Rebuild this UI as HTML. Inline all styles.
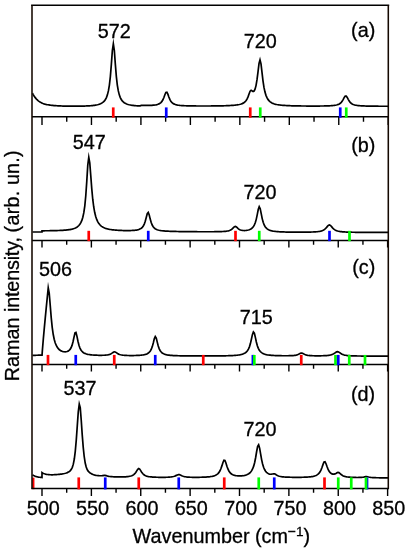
<!DOCTYPE html>
<html lang="en"><head><meta charset="utf-8"><title>Raman spectra</title>
<style>html,body{margin:0;padding:0;background:#fff}body{width:408px;height:550px;overflow:hidden}</style></head>
<body>
<svg width="408" height="550" viewBox="0 0 408 550" style="display:block">
<rect width="408" height="550" fill="#fff"/>
<path d="M32.49,93.28 L33.08,94.32 L34.07,95.94 L35.06,97.39 L36.05,98.65 L37.05,99.73 L38.04,100.64 L39.03,101.41 L40.02,102.06 L41.01,102.61 L41.99,103.07 L42.00,103.07 L42.99,103.47 L43.98,103.82 L44.97,104.11 L45.96,104.37 L46.95,104.59 L47.95,104.78 L48.94,104.95 L49.93,105.10 L50.92,105.23 L51.91,105.35 L52.90,105.45 L53.89,105.54 L54.88,105.62 L55.87,105.70 L56.87,105.76 L57.86,105.82 L58.85,105.88 L59.84,105.92 L60.83,105.96 L61.82,106.00 L62.81,106.04 L63.80,106.07 L64.79,106.09 L65.78,106.12 L66.78,106.14 L67.77,106.15 L68.76,106.17 L69.75,106.18 L70.74,106.19 L71.73,106.20 L72.72,106.20 L73.71,106.21 L74.70,106.21 L75.69,106.20 L76.69,106.20 L77.68,106.19 L78.67,106.18 L79.66,106.17 L80.65,106.15 L81.64,106.13 L82.63,106.11 L83.62,106.08 L84.61,106.05 L85.60,106.02 L86.59,105.97 L87.59,105.93 L88.58,105.87 L89.57,105.81 L90.56,105.73 L91.55,105.65 L92.54,105.55 L93.53,105.44 L94.52,105.31 L95.51,105.15 L96.50,104.97 L97.50,104.75 L98.49,104.49 L99.48,104.17 L100.47,103.78 L101.46,103.30 L102.45,102.68 L103.44,101.89 L104.43,100.85 L105.42,99.47 L106.42,97.56 L107.41,94.86 L108.40,90.93 L109.39,85.08 L110.38,76.36 L111.37,64.10 L112.36,50.49 L113.35,43.79 L114.34,50.49 L115.33,64.10 L116.33,76.36 L117.32,85.09 L118.31,90.94 L119.30,94.86 L120.29,97.56 L121.28,99.47 L122.27,100.86 L123.26,101.90 L124.25,102.69 L125.24,103.31 L126.23,103.80 L127.23,104.19 L128.22,104.51 L129.21,104.77 L130.20,104.99 L131.19,105.17 L132.18,105.32 L133.17,105.45 L134.16,105.56 L135.15,105.66 L136.14,105.74 L137.14,105.81 L138.13,105.87 L139.12,105.92 L140.11,105.96 L141.10,105.40 L142.09,105.42 L143.08,105.44 L144.07,105.46 L145.06,105.47 L146.06,105.47 L147.05,105.46 L148.04,105.45 L149.03,105.42 L150.02,105.39 L151.01,105.35 L152.00,105.29 L152.99,105.21 L153.98,105.11 L154.97,104.98 L155.97,104.81 L156.96,104.59 L157.95,104.30 L158.94,103.90 L159.93,103.34 L160.92,102.56 L161.91,101.43 L162.90,99.80 L163.89,97.52 L164.88,94.73 L165.88,92.37 L166.87,92.12 L167.86,94.18 L168.85,97.02 L169.84,99.44 L170.83,101.21 L171.82,102.43 L172.81,103.29 L173.80,103.89 L174.79,104.33 L175.78,104.66 L176.78,104.91 L177.77,105.10 L178.76,105.25 L179.75,105.38 L180.74,105.48 L181.73,105.56 L182.72,105.63 L183.71,105.68 L184.70,105.73 L185.69,105.77 L186.69,105.81 L187.68,105.84 L188.67,105.86 L189.66,105.89 L190.65,105.91 L191.64,105.92 L192.63,105.94 L193.62,105.95 L194.61,105.96 L195.60,105.97 L196.60,105.98 L197.59,105.98 L198.58,105.99 L199.57,105.99 L200.56,106.00 L201.55,106.00 L202.54,106.00 L203.53,106.00 L204.52,106.00 L205.51,106.00 L206.51,106.00 L207.50,105.99 L208.49,105.99 L209.48,105.99 L210.47,105.98 L211.46,105.97 L212.45,105.97 L213.44,105.96 L214.43,105.95 L215.43,105.94 L216.42,105.92 L217.41,105.91 L218.40,105.90 L219.39,105.88 L220.38,105.86 L221.37,105.84 L222.36,105.82 L223.35,105.79 L224.34,105.76 L225.34,105.73 L226.33,105.70 L227.32,105.66 L228.31,105.62 L229.30,105.57 L230.29,105.52 L231.28,105.46 L232.27,105.39 L233.26,105.32 L234.25,105.23 L235.25,105.13 L236.24,105.01 L237.23,104.87 L238.22,104.71 L239.21,104.51 L240.20,104.27 L241.19,103.98 L242.18,103.61 L243.17,103.14 L244.16,102.53 L245.16,101.69 L246.15,100.54 L247.14,98.90 L248.13,96.63 L249.12,93.76 L250.11,91.15 L251.10,90.23 L252.09,90.90 L253.08,91.56 L254.07,91.10 L255.06,89.13 L256.06,85.37 L257.05,79.48 L258.04,71.53 L259.03,63.43 L260.02,59.83 L261.01,63.82 L262.00,72.35 L262.99,80.82 L263.98,87.38 L264.98,92.07 L265.97,95.36 L266.96,97.70 L267.95,99.40 L268.94,100.65 L269.93,101.61 L270.92,102.34 L271.91,102.92 L272.90,103.38 L273.89,103.76 L274.88,104.06 L275.88,104.32 L276.87,104.54 L277.86,104.72 L278.85,104.87 L279.84,105.01 L280.83,105.12 L281.82,105.23 L282.81,105.31 L283.80,105.39 L284.79,105.46 L285.79,105.52 L286.78,105.58 L287.77,105.63 L288.76,105.67 L289.75,105.71 L290.74,105.75 L291.73,105.78 L292.72,105.81 L293.71,105.84 L294.70,105.86 L295.70,105.89 L296.69,105.91 L297.68,105.93 L298.67,105.94 L299.66,105.96 L300.65,105.97 L301.64,105.98 L302.63,106.00 L303.62,106.01 L304.62,106.02 L305.61,106.02 L306.60,106.03 L307.59,106.04 L308.58,106.04 L309.57,106.05 L310.56,106.05 L311.55,106.05 L312.54,106.05 L313.53,106.06 L314.52,106.05 L315.52,106.05 L316.51,106.05 L317.50,106.05 L318.49,106.04 L319.48,106.03 L320.47,106.02 L321.46,106.01 L322.45,106.00 L323.44,105.98 L324.44,105.97 L325.43,105.94 L326.42,105.92 L327.41,105.89 L328.40,105.85 L329.39,105.80 L330.38,105.75 L331.37,105.69 L332.36,105.61 L333.35,105.51 L334.34,105.38 L335.34,105.23 L336.33,105.02 L337.32,104.76 L338.31,104.41 L339.30,103.93 L340.29,103.26 L341.28,102.33 L342.27,101.04 L343.26,99.34 L344.25,97.43 L345.25,96.01 L346.24,96.01 L347.23,97.43 L348.22,99.35 L349.21,101.06 L350.20,102.35 L351.19,103.28 L352.18,103.95 L353.17,104.44 L354.17,104.79 L355.16,105.06 L356.15,105.27 L357.14,105.43 L358.13,105.56 L359.12,105.66 L360.11,105.74 L361.10,105.81 L362.09,105.87 L363.08,105.92 L364.07,105.96 L365.07,106.00 L366.06,106.03 L367.05,106.06 L368.04,106.08 L369.03,106.10 L370.02,106.12 L371.01,106.14 L372.00,106.16 L372.99,106.17 L373.99,106.18 L374.98,106.19 L375.97,106.20 L376.96,106.21 L377.95,106.22 L378.94,106.23 L379.93,106.24 L380.92,106.24 L381.91,106.25 L382.90,106.25 L383.89,106.26 L384.89,106.26 L385.88,106.27 L386.87,106.27 L388.45,106.28" fill="none" stroke="#000" stroke-width="1.7" stroke-linejoin="miter" stroke-miterlimit="10"/>
<path d="M32.49,232.00 L33.28,232.00 L34.27,232.00 L35.26,232.00 L36.25,232.00 L37.24,232.00 L38.23,232.00 L39.23,232.00 L40.22,232.00 L41.21,232.00 L41.99,232.00 L42.00,230.80 L42.20,230.80 L43.19,230.79 L44.18,230.78 L45.17,230.77 L46.16,230.76 L47.15,230.75 L48.14,230.74 L49.14,230.73 L50.13,230.71 L51.12,230.70 L52.11,230.68 L53.10,230.66 L54.09,230.64 L55.08,230.61 L56.07,230.58 L57.06,230.55 L58.05,230.52 L59.05,230.48 L60.04,230.44 L61.03,230.39 L62.02,230.34 L63.01,230.28 L64.00,230.21 L64.99,230.13 L65.98,230.04 L66.97,229.94 L67.96,229.83 L68.96,229.69 L69.95,229.54 L70.94,229.35 L71.93,229.14 L72.92,228.88 L73.91,228.57 L74.90,228.20 L75.89,227.74 L76.88,227.17 L77.87,226.45 L78.87,225.52 L79.86,224.31 L80.85,222.68 L81.84,220.43 L82.83,217.27 L83.82,212.66 L84.81,205.79 L85.80,195.55 L86.79,181.15 L87.78,165.16 L88.78,157.30 L89.77,162.89 L90.76,175.53 L91.75,188.66 L92.74,199.23 L93.73,206.99 L94.72,212.54 L95.71,216.53 L96.70,219.44 L97.69,221.61 L98.69,223.26 L99.68,224.54 L100.67,225.54 L101.66,226.34 L102.65,226.99 L103.64,227.53 L104.63,227.97 L105.62,228.34 L106.61,228.66 L107.60,228.92 L108.60,229.15 L109.59,229.35 L110.58,229.52 L111.57,229.68 L112.56,229.81 L113.55,229.92 L114.54,230.03 L115.53,230.12 L116.52,230.20 L117.51,230.27 L118.51,230.33 L119.50,230.38 L120.49,230.43 L121.48,230.47 L122.47,230.51 L123.46,230.53 L124.45,230.56 L125.44,230.57 L126.43,230.58 L127.42,230.58 L128.42,230.58 L129.41,230.56 L130.40,230.54 L131.39,230.51 L132.38,230.46 L133.37,230.40 L134.36,230.31 L135.35,230.21 L136.34,230.06 L137.33,229.88 L138.33,229.63 L139.32,229.30 L140.31,228.85 L141.30,228.22 L142.29,227.32 L143.28,226.01 L144.27,224.07 L145.26,221.22 L146.25,217.42 L147.24,213.67 L148.24,212.50 L149.23,215.05 L150.22,219.09 L151.21,222.57 L152.20,225.05 L153.19,226.74 L154.18,227.89 L155.17,228.69 L156.16,229.27 L157.15,229.70 L158.15,230.02 L159.14,230.27 L160.13,230.47 L161.12,230.63 L162.11,230.76 L163.10,230.87 L164.09,230.96 L165.08,231.04 L166.07,231.11 L167.06,231.16 L168.06,231.22 L169.05,231.26 L170.04,231.30 L171.03,231.34 L172.02,231.37 L173.01,231.40 L174.00,231.42 L174.99,231.45 L175.98,231.47 L176.97,231.49 L177.97,231.51 L178.96,231.53 L179.95,231.55 L180.94,231.56 L181.93,231.58 L182.92,231.59 L183.91,231.60 L184.90,231.62 L185.89,231.63 L186.88,231.64 L187.88,231.65 L188.87,231.66 L189.86,231.67 L190.85,231.68 L191.84,231.69 L192.83,231.69 L193.82,231.70 L194.81,231.71 L195.80,231.72 L196.79,231.72 L197.79,231.73 L198.78,231.73 L199.77,231.74 L200.76,231.74 L201.75,231.75 L202.74,231.75 L203.73,231.75 L204.72,231.75 L205.71,231.75 L206.70,231.75 L207.70,231.75 L208.69,231.75 L209.68,231.75 L210.67,231.75 L211.66,231.74 L212.65,231.74 L213.64,231.73 L214.63,231.72 L215.62,231.71 L216.61,231.70 L217.61,231.68 L218.60,231.66 L219.59,231.64 L220.58,231.61 L221.57,231.57 L222.56,231.52 L223.55,231.47 L224.54,231.39 L225.53,231.30 L226.52,231.18 L227.52,231.02 L228.51,230.81 L229.50,230.51 L230.49,230.10 L231.48,229.51 L232.47,228.69 L233.46,227.66 L234.45,226.72 L235.44,226.42 L236.43,226.99 L237.43,227.97 L238.42,228.87 L239.41,229.53 L240.40,229.97 L241.39,230.26 L242.38,230.43 L243.37,230.52 L244.36,230.54 L245.35,230.50 L246.34,230.41 L247.34,230.26 L248.33,230.04 L249.32,229.74 L250.31,229.32 L251.30,228.75 L252.29,227.95 L253.28,226.82 L254.27,225.20 L255.26,222.82 L256.25,219.37 L257.25,214.65 L258.24,209.50 L259.23,206.69 L260.22,208.66 L261.21,213.65 L262.20,218.60 L263.19,222.34 L264.18,224.93 L265.17,226.71 L266.16,227.96 L267.16,228.84 L268.15,229.50 L269.14,229.99 L270.13,230.36 L271.12,230.66 L272.11,230.89 L273.10,231.08 L274.09,231.24 L275.08,231.37 L276.07,231.48 L277.07,231.58 L278.06,231.66 L279.05,231.73 L280.04,231.79 L281.03,231.84 L282.02,231.89 L283.01,231.93 L284.00,231.97 L284.99,232.00 L285.98,232.03 L286.98,232.06 L287.97,232.08 L288.96,232.10 L289.95,232.12 L290.94,232.13 L291.93,232.15 L292.92,232.15 L293.91,232.16 L294.90,232.17 L295.89,232.17 L296.89,232.18 L297.88,232.18 L298.87,232.18 L299.86,232.18 L300.85,232.18 L301.84,232.18 L302.83,232.17 L303.82,232.16 L304.81,232.16 L305.80,232.15 L306.80,232.13 L307.79,232.12 L308.78,232.10 L309.77,232.08 L310.76,232.05 L311.75,232.02 L312.74,231.98 L313.73,231.93 L314.72,231.88 L315.71,231.81 L316.71,231.73 L317.70,231.63 L318.69,231.50 L319.68,231.33 L320.67,231.12 L321.66,230.85 L322.65,230.48 L323.64,230.00 L324.63,229.34 L325.62,228.48 L326.62,227.39 L327.61,226.18 L328.60,225.21 L329.59,224.94 L330.58,225.55 L331.57,226.67 L332.56,227.86 L333.55,228.86 L334.54,229.64 L335.53,230.23 L336.53,230.67 L337.52,230.99 L338.51,231.25 L339.50,231.44 L340.49,231.59 L341.48,231.71 L342.47,231.81 L343.46,231.89 L344.45,231.96 L345.44,232.01 L346.44,232.06 L347.43,232.10 L348.42,232.14 L349.41,232.17 L350.40,232.19 L351.39,232.21 L352.38,232.23 L353.37,232.25 L354.36,232.27 L355.35,232.28 L356.35,232.30 L357.34,232.31 L358.33,232.32 L359.32,232.33 L360.31,232.34 L361.30,232.34 L362.29,232.35 L363.28,232.36 L364.27,232.36 L365.26,232.37 L366.26,232.37 L367.25,232.38 L368.24,232.38 L369.23,232.39 L370.22,232.39 L371.21,232.40 L372.20,232.40 L373.19,232.40 L374.18,232.41 L375.17,232.41 L376.17,232.41 L377.16,232.41 L378.15,232.42 L379.14,232.42 L380.13,232.42 L381.12,232.42 L382.11,232.43 L383.10,232.43 L384.09,232.43 L385.08,232.43 L386.08,232.43 L387.07,232.43 L388.45,232.44" fill="none" stroke="#000" stroke-width="1.7" stroke-linejoin="miter" stroke-miterlimit="10"/>
<path d="M32.49,355.39 L33.38,355.36 L34.37,355.33 L35.36,355.30 L36.35,355.27 L37.34,355.24 L38.33,355.21 L39.32,355.18 L40.32,355.15 L41.31,355.12 L41.99,355.10 L42.00,355.99 L42.30,351.39 L43.29,339.34 L44.28,328.37 L45.27,317.87 L46.26,307.68 L47.25,297.70 L48.24,287.90 L49.23,293.29 L50.23,305.33 L51.22,317.59 L52.21,327.28 L53.20,334.26 L54.19,339.20 L55.18,342.70 L56.17,345.23 L57.16,347.08 L58.15,348.46 L59.14,349.50 L60.14,350.28 L61.13,350.87 L62.12,351.30 L63.11,351.60 L64.10,351.77 L65.09,351.83 L66.08,351.76 L67.07,351.54 L68.06,351.14 L69.05,350.47 L70.05,349.43 L71.04,347.82 L72.03,345.38 L73.02,341.77 L74.01,337.09 L75.00,332.96 L75.99,332.54 L76.98,336.32 L77.97,341.24 L78.96,345.25 L79.96,348.06 L80.95,349.98 L81.94,351.30 L82.93,352.23 L83.92,352.90 L84.91,353.40 L85.90,353.79 L86.89,354.09 L87.88,354.32 L88.87,354.52 L89.87,354.67 L90.86,354.80 L91.85,354.91 L92.84,354.99 L93.83,355.07 L94.82,355.13 L95.81,355.18 L96.80,355.22 L97.79,355.25 L98.78,355.28 L99.78,355.29 L100.77,355.30 L101.76,355.29 L102.75,355.27 L103.74,355.24 L104.73,355.20 L105.72,355.13 L106.71,355.02 L107.70,354.88 L108.69,354.67 L109.69,354.37 L110.68,353.95 L111.67,353.38 L112.66,352.67 L113.65,352.01 L114.64,351.78 L115.63,352.14 L116.62,352.84 L117.61,353.55 L118.60,354.11 L119.60,354.51 L120.59,354.80 L121.58,355.01 L122.57,355.16 L123.56,355.27 L124.55,355.36 L125.54,355.42 L126.53,355.46 L127.52,355.50 L128.51,355.52 L129.51,355.54 L130.50,355.54 L131.49,355.55 L132.48,355.54 L133.47,355.53 L134.46,355.51 L135.45,355.49 L136.44,355.46 L137.43,355.42 L138.42,355.37 L139.42,355.30 L140.41,355.23 L141.40,355.13 L142.39,355.01 L143.38,354.86 L144.37,354.67 L145.36,354.42 L146.35,354.09 L147.34,353.66 L148.33,353.06 L149.33,352.22 L150.32,351.01 L151.31,349.23 L152.30,346.60 L153.29,342.95 L154.28,338.85 L155.27,336.56 L156.26,338.15 L157.25,342.13 L158.24,345.97 L159.24,348.80 L160.23,350.74 L161.22,352.05 L162.21,352.96 L163.20,353.60 L164.19,354.07 L165.18,354.42 L166.17,354.69 L167.16,354.90 L168.15,355.07 L169.15,355.20 L170.14,355.31 L171.13,355.40 L172.12,355.47 L173.11,355.54 L174.10,355.59 L175.09,355.64 L176.08,355.68 L177.07,355.71 L178.06,355.74 L179.06,355.77 L180.05,355.79 L181.04,355.81 L182.03,355.83 L183.02,355.85 L184.01,355.86 L185.00,355.88 L185.99,355.89 L186.98,355.90 L187.97,355.91 L188.97,355.92 L189.96,355.92 L190.95,355.93 L191.94,355.94 L192.93,355.94 L193.92,355.95 L194.91,355.95 L195.90,355.95 L196.89,355.96 L197.88,355.96 L198.88,355.96 L199.87,355.96 L200.86,355.96 L201.85,355.96 L202.84,355.96 L203.83,355.96 L204.82,355.96 L205.81,355.96 L206.80,355.96 L207.79,355.96 L208.79,355.96 L209.78,355.95 L210.77,355.95 L211.76,355.94 L212.75,355.94 L213.74,355.93 L214.73,355.93 L215.72,355.92 L216.71,355.91 L217.70,355.90 L218.70,355.89 L219.69,355.88 L220.68,355.87 L221.67,355.86 L222.66,355.84 L223.65,355.83 L224.64,355.81 L225.63,355.79 L226.62,355.76 L227.61,355.74 L228.61,355.71 L229.60,355.68 L230.59,355.64 L231.58,355.60 L232.57,355.55 L233.56,355.49 L234.55,355.43 L235.54,355.35 L236.53,355.26 L237.52,355.16 L238.52,355.03 L239.51,354.88 L240.50,354.70 L241.49,354.47 L242.48,354.19 L243.47,353.83 L244.46,353.36 L245.45,352.74 L246.44,351.91 L247.43,350.77 L248.43,349.15 L249.42,346.85 L250.41,343.61 L251.40,339.31 L252.39,334.67 L253.38,331.92 L254.37,333.18 L255.36,337.40 L256.35,342.00 L257.34,345.68 L258.34,348.33 L259.33,350.18 L260.32,351.49 L261.31,352.44 L262.30,353.13 L263.29,353.65 L264.28,354.05 L265.27,354.36 L266.26,354.60 L267.25,354.80 L268.25,354.97 L269.24,355.10 L270.23,355.21 L271.22,355.30 L272.21,355.38 L273.20,355.45 L274.19,355.50 L275.18,355.55 L276.17,355.59 L277.16,355.63 L278.16,355.66 L279.15,355.68 L280.14,355.71 L281.13,355.72 L282.12,355.74 L283.11,355.75 L284.10,355.75 L285.09,355.76 L286.08,355.75 L287.07,355.75 L288.07,355.74 L289.06,355.72 L290.05,355.69 L291.04,355.66 L292.03,355.60 L293.02,355.54 L294.01,355.44 L295.00,355.31 L295.99,355.12 L296.98,354.86 L297.98,354.50 L298.97,354.01 L299.96,353.47 L300.95,353.07 L301.94,353.07 L302.93,353.48 L303.92,354.02 L304.91,354.51 L305.90,354.88 L306.89,355.15 L307.89,355.33 L308.88,355.47 L309.87,355.57 L310.86,355.64 L311.85,355.70 L312.84,355.74 L313.83,355.77 L314.82,355.79 L315.81,355.80 L316.80,355.81 L317.80,355.81 L318.79,355.81 L319.78,355.80 L320.77,355.79 L321.76,355.77 L322.75,355.75 L323.74,355.71 L324.73,355.67 L325.72,355.61 L326.71,355.54 L327.71,355.45 L328.70,355.33 L329.69,355.17 L330.68,354.96 L331.67,354.68 L332.66,354.30 L333.65,353.80 L334.64,353.16 L335.63,352.44 L336.62,351.83 L337.62,351.62 L338.61,351.94 L339.60,352.59 L340.59,353.31 L341.58,353.93 L342.57,354.41 L343.56,354.78 L344.55,355.05 L345.54,355.25 L346.53,355.41 L347.53,355.53 L348.52,355.62 L349.51,355.70 L350.50,355.76 L351.49,355.81 L352.48,355.85 L353.47,355.88 L354.46,355.91 L355.45,355.94 L356.44,355.96 L357.44,355.98 L358.43,355.99 L359.42,356.01 L360.41,356.02 L361.40,356.03 L362.39,356.04 L363.38,356.05 L364.37,356.06 L365.36,356.07 L366.35,356.07 L367.35,356.08 L368.34,356.08 L369.33,356.09 L370.32,356.09 L371.31,356.10 L372.30,356.10 L373.29,356.11 L374.28,356.11 L375.27,356.11 L376.26,356.12 L377.26,356.12 L378.25,356.12 L379.24,356.12 L380.23,356.13 L381.22,356.13 L382.21,356.13 L383.20,356.13 L384.19,356.13 L385.18,356.14 L386.17,356.14 L387.17,356.14 L388.45,356.14" fill="none" stroke="#000" stroke-width="1.7" stroke-linejoin="miter" stroke-miterlimit="10"/>
<path d="M32.49,474.88 L33.68,475.57 L34.67,476.03 L35.66,476.39 L36.65,476.68 L37.64,476.92 L38.63,477.10 L39.62,477.25 L40.61,477.37 L41.60,477.47 L41.99,477.50 L42.00,472.57 L42.59,472.93 L43.59,473.43 L44.58,473.82 L45.57,474.12 L46.56,474.35 L47.55,474.52 L48.54,474.64 L49.53,474.72 L50.52,474.77 L51.51,474.79 L52.50,474.78 L53.50,474.75 L54.49,474.71 L55.48,474.66 L56.47,474.59 L57.46,474.51 L58.45,474.42 L59.44,474.31 L60.43,474.20 L61.42,474.07 L62.41,473.92 L63.41,473.74 L64.40,473.53 L65.39,473.29 L66.38,472.98 L67.37,472.60 L68.36,472.12 L69.35,471.48 L70.34,470.61 L71.33,469.34 L72.32,467.36 L73.32,464.16 L74.31,459.00 L75.30,451.08 L76.29,439.89 L77.28,425.91 L78.27,411.92 L79.26,404.07 L80.25,407.72 L81.24,420.25 L82.23,434.87 L83.23,447.43 L84.22,456.75 L85.21,463.03 L86.20,467.02 L87.19,469.52 L88.18,471.12 L89.17,472.22 L90.16,473.02 L91.15,473.63 L92.14,474.12 L93.14,474.51 L94.13,474.83 L95.12,475.09 L96.11,475.31 L97.10,475.48 L98.09,475.61 L99.08,475.71 L100.07,475.76 L101.06,475.76 L102.05,475.69 L103.05,475.54 L104.04,475.38 L105.03,475.35 L106.02,475.56 L107.01,475.87 L108.00,476.15 L108.99,476.36 L109.98,476.51 L110.97,476.62 L111.96,476.70 L112.96,476.77 L113.95,476.82 L114.94,476.86 L115.93,476.89 L116.92,476.91 L117.91,476.93 L118.90,476.94 L119.89,476.94 L120.88,476.94 L121.87,476.93 L122.87,476.91 L123.86,476.88 L124.85,476.83 L125.84,476.78 L126.83,476.70 L127.82,476.60 L128.81,476.46 L129.80,476.28 L130.79,476.04 L131.78,475.71 L132.78,475.25 L133.77,474.61 L134.76,473.71 L135.75,472.47 L136.74,470.90 L137.73,469.34 L138.72,468.54 L139.71,469.10 L140.70,470.60 L141.69,472.22 L142.69,473.55 L143.68,474.53 L144.67,475.23 L145.66,475.73 L146.65,476.10 L147.64,476.38 L148.63,476.59 L149.62,476.75 L150.61,476.87 L151.60,476.97 L152.60,477.05 L153.59,477.12 L154.58,477.17 L155.57,477.21 L156.56,477.24 L157.55,477.27 L158.54,477.29 L159.53,477.31 L160.52,477.32 L161.51,477.32 L162.51,477.32 L163.50,477.32 L164.49,477.31 L165.48,477.29 L166.47,477.26 L167.46,477.23 L168.45,477.18 L169.44,477.11 L170.43,477.02 L171.42,476.91 L172.42,476.75 L173.41,476.53 L174.40,476.24 L175.39,475.86 L176.38,475.39 L177.37,474.93 L178.36,474.63 L179.35,474.67 L180.34,475.02 L181.33,475.49 L182.33,475.94 L183.32,476.30 L184.31,476.58 L185.30,476.78 L186.29,476.93 L187.28,477.04 L188.27,477.13 L189.26,477.19 L190.25,477.23 L191.24,477.27 L192.24,477.29 L193.23,477.31 L194.22,477.32 L195.21,477.32 L196.20,477.32 L197.19,477.32 L198.18,477.31 L199.17,477.29 L200.16,477.27 L201.15,477.25 L202.15,477.22 L203.14,477.19 L204.13,477.15 L205.12,477.10 L206.11,477.04 L207.10,476.97 L208.09,476.89 L209.08,476.79 L210.07,476.67 L211.06,476.52 L212.06,476.35 L213.05,476.13 L214.04,475.85 L215.03,475.49 L216.02,475.03 L217.01,474.41 L218.00,473.57 L218.99,472.41 L219.98,470.80 L220.97,468.56 L221.97,465.65 L222.96,462.45 L223.95,460.25 L224.94,460.50 L225.93,463.01 L226.92,466.18 L227.91,468.93 L228.90,470.99 L229.89,472.46 L230.88,473.50 L231.88,474.24 L232.87,474.78 L233.86,475.16 L234.85,475.44 L235.84,475.64 L236.83,475.78 L237.82,475.87 L238.81,475.91 L239.80,475.92 L240.79,475.89 L241.79,475.82 L242.78,475.72 L243.77,475.57 L244.76,475.37 L245.75,475.11 L246.74,474.77 L247.73,474.34 L248.72,473.77 L249.71,473.02 L250.70,472.01 L251.70,470.65 L252.69,468.77 L253.68,466.13 L254.67,462.45 L255.66,457.48 L256.65,451.51 L257.64,446.25 L258.63,444.72 L259.62,448.08 L260.61,453.95 L261.61,459.62 L262.60,464.05 L263.59,467.27 L264.58,469.55 L265.57,471.18 L266.56,472.34 L267.55,473.17 L268.54,473.74 L269.53,474.10 L270.52,474.26 L271.52,474.22 L272.51,473.99 L273.50,473.74 L274.49,473.82 L275.48,474.35 L276.47,475.02 L277.46,475.58 L278.45,475.99 L279.44,476.29 L280.43,476.50 L281.43,476.67 L282.42,476.80 L283.41,476.90 L284.40,476.98 L285.39,477.05 L286.38,477.10 L287.37,477.15 L288.36,477.19 L289.35,477.22 L290.34,477.25 L291.34,477.27 L292.33,477.29 L293.32,477.31 L294.31,477.32 L295.30,477.32 L296.29,477.33 L297.28,477.33 L298.27,477.32 L299.26,477.32 L300.25,477.31 L301.25,477.29 L302.24,477.27 L303.23,477.25 L304.22,477.22 L305.21,477.18 L306.20,477.13 L307.19,477.08 L308.18,477.01 L309.17,476.93 L310.16,476.83 L311.16,476.71 L312.15,476.55 L313.14,476.37 L314.13,476.13 L315.12,475.82 L316.11,475.42 L317.10,474.89 L318.09,474.17 L319.08,473.18 L320.07,471.80 L321.07,469.88 L322.06,467.32 L323.05,464.38 L324.04,462.04 L325.03,461.76 L326.02,463.72 L327.01,466.58 L328.00,469.16 L328.99,471.10 L329.98,472.46 L330.98,473.35 L331.97,473.90 L332.96,474.16 L333.95,474.17 L334.94,473.92 L335.93,473.43 L336.92,472.81 L337.91,472.41 L338.90,472.61 L339.89,473.37 L340.89,474.28 L341.88,475.07 L342.87,475.67 L343.86,476.11 L344.85,476.43 L345.84,476.67 L346.83,476.85 L347.82,477.00 L348.81,477.11 L349.80,477.20 L350.80,477.27 L351.79,477.33 L352.78,477.37 L353.77,477.41 L354.76,477.44 L355.75,477.46 L356.74,477.48 L357.73,477.48 L358.72,477.47 L359.71,477.45 L360.71,477.42 L361.70,477.35 L362.69,477.24 L363.68,477.08 L364.67,476.85 L365.66,476.62 L366.65,476.56 L367.64,476.73 L368.63,476.99 L369.62,477.22 L370.62,477.38 L371.61,477.50 L372.60,477.58 L373.59,477.63 L374.58,477.68 L375.57,477.71 L376.56,477.73 L377.55,477.75 L378.54,477.77 L379.53,477.79 L380.53,477.80 L381.52,477.81 L382.51,477.82 L383.50,477.82 L384.49,477.83 L385.48,477.84 L386.47,477.84 L387.46,477.85 L388.45,477.86" fill="none" stroke="#000" stroke-width="1.7" stroke-linejoin="miter" stroke-miterlimit="10"/>
<path d="M42.00,116.80 v8.30 M66.73,116.80 v4.90 M91.46,116.80 v8.30 M116.19,116.80 v4.90 M140.92,116.80 v8.30 M165.65,116.80 v4.90 M190.38,116.80 v8.30 M215.11,116.80 v4.90 M239.84,116.80 v8.30 M264.57,116.80 v4.90 M289.30,116.80 v8.30 M314.03,116.80 v4.90 M338.76,116.80 v8.30 M363.49,116.80 v4.90 M388.22,116.80 v8.30 M42.00,240.50 v7.00 M66.69,240.50 v4.20 M91.38,240.50 v7.00 M116.06,240.50 v4.20 M140.75,240.50 v7.00 M165.44,240.50 v4.20 M190.12,240.50 v7.00 M214.81,240.50 v4.20 M239.50,240.50 v7.00 M264.19,240.50 v4.20 M288.88,240.50 v7.00 M313.56,240.50 v4.20 M338.25,240.50 v7.00 M362.94,240.50 v4.20 M387.62,240.50 v7.00 M42.00,364.50 v7.00 M66.69,364.50 v4.20 M91.38,364.50 v7.00 M116.06,364.50 v4.20 M140.75,364.50 v7.00 M165.44,364.50 v4.20 M190.12,364.50 v7.00 M214.81,364.50 v4.20 M239.50,364.50 v7.00 M264.19,364.50 v4.20 M288.88,364.50 v7.00 M313.56,364.50 v4.20 M338.25,364.50 v7.00 M362.94,364.50 v4.20 M387.62,364.50 v7.00 M42.00,488.45 v7.50 M66.69,488.45 v4.20 M91.38,488.45 v7.50 M116.06,488.45 v4.20 M140.75,488.45 v7.50 M165.44,488.45 v4.20 M190.12,488.45 v7.50 M214.81,488.45 v4.20 M239.50,488.45 v7.50 M264.19,488.45 v4.20 M288.88,488.45 v7.50 M313.56,488.45 v4.20 M338.25,488.45 v7.50 M362.94,488.45 v4.20 M387.62,488.45 v7.50" stroke="#000" stroke-width="1.4" fill="none"/>
<line x1="32.00" y1="116.80" x2="388.30" y2="116.80" stroke="#000" stroke-width="1.4"/>
<line x1="32.00" y1="240.50" x2="388.30" y2="240.50" stroke="#000" stroke-width="1.4"/>
<line x1="32.00" y1="364.50" x2="388.30" y2="364.50" stroke="#000" stroke-width="1.4"/>
<line x1="33.30" y1="477.60" x2="33.30" y2="489.20" stroke="#ff0000" stroke-width="2.3"/>
<path d="M31.10,5.30 H389.20 M31.25,488.45 H389.05" stroke="#000" stroke-width="1.4" fill="none"/>
<path d="M32.00,5.30 V488.45 M388.30,5.30 V488.45" stroke="#140800" stroke-width="1.55" fill="none"/>
<line x1="113.25" y1="107.40" x2="113.25" y2="117.70" stroke="#ff0000" stroke-width="2.7"/>
<line x1="166.25" y1="107.40" x2="166.25" y2="117.70" stroke="#0000ff" stroke-width="2.7"/>
<line x1="250.25" y1="107.40" x2="250.25" y2="117.70" stroke="#ff0000" stroke-width="2.7"/>
<line x1="260.25" y1="107.40" x2="260.25" y2="117.70" stroke="#00ff00" stroke-width="2.7"/>
<line x1="340.25" y1="107.40" x2="340.25" y2="117.70" stroke="#0000ff" stroke-width="2.7"/>
<line x1="346.25" y1="107.40" x2="346.25" y2="117.70" stroke="#00ff00" stroke-width="2.7"/>
<line x1="88.75" y1="230.80" x2="88.75" y2="241.20" stroke="#ff0000" stroke-width="2.7"/>
<line x1="148.25" y1="230.80" x2="148.25" y2="241.20" stroke="#0000ff" stroke-width="2.7"/>
<line x1="235.50" y1="230.80" x2="235.50" y2="241.20" stroke="#ff0000" stroke-width="2.7"/>
<line x1="259.25" y1="230.80" x2="259.25" y2="241.20" stroke="#00ff00" stroke-width="2.7"/>
<line x1="329.50" y1="230.80" x2="329.50" y2="241.20" stroke="#0000ff" stroke-width="2.7"/>
<line x1="349.50" y1="230.80" x2="349.50" y2="241.20" stroke="#00ff00" stroke-width="2.7"/>
<line x1="48.00" y1="354.90" x2="48.00" y2="365.20" stroke="#ff0000" stroke-width="2.7"/>
<line x1="75.75" y1="354.90" x2="75.75" y2="365.20" stroke="#0000ff" stroke-width="2.7"/>
<line x1="114.25" y1="354.90" x2="114.25" y2="365.20" stroke="#ff0000" stroke-width="2.7"/>
<line x1="155.25" y1="354.90" x2="155.25" y2="365.20" stroke="#0000ff" stroke-width="2.7"/>
<line x1="203.25" y1="354.90" x2="203.25" y2="365.20" stroke="#ff0000" stroke-width="2.7"/>
<line x1="252.90" y1="354.90" x2="252.90" y2="365.20" stroke="#0000ff" stroke-width="2.7"/>
<line x1="254.30" y1="354.90" x2="254.30" y2="365.20" stroke="#00ff00" stroke-width="2.7"/>
<line x1="301.25" y1="354.90" x2="301.25" y2="365.20" stroke="#ff0000" stroke-width="2.7"/>
<line x1="335.50" y1="354.90" x2="335.50" y2="365.20" stroke="#00ff00" stroke-width="2.7"/>
<line x1="338.25" y1="354.90" x2="338.25" y2="365.20" stroke="#0000ff" stroke-width="2.7"/>
<line x1="349.25" y1="354.90" x2="349.25" y2="365.20" stroke="#00ff00" stroke-width="2.7"/>
<line x1="365.00" y1="354.90" x2="365.00" y2="365.20" stroke="#00ff00" stroke-width="2.7"/>
<line x1="78.75" y1="477.40" x2="78.75" y2="489.40" stroke="#ff0000" stroke-width="2.7"/>
<line x1="105.25" y1="477.40" x2="105.25" y2="489.40" stroke="#0000ff" stroke-width="2.7"/>
<line x1="138.75" y1="477.40" x2="138.75" y2="489.40" stroke="#ff0000" stroke-width="2.7"/>
<line x1="178.75" y1="477.40" x2="178.75" y2="489.40" stroke="#0000ff" stroke-width="2.7"/>
<line x1="224.25" y1="477.40" x2="224.25" y2="489.40" stroke="#ff0000" stroke-width="2.7"/>
<line x1="258.75" y1="477.40" x2="258.75" y2="489.40" stroke="#00ff00" stroke-width="2.7"/>
<line x1="274.25" y1="477.40" x2="274.25" y2="489.40" stroke="#0000ff" stroke-width="2.7"/>
<line x1="324.50" y1="477.40" x2="324.50" y2="489.40" stroke="#ff0000" stroke-width="2.7"/>
<line x1="338.25" y1="477.40" x2="338.25" y2="489.40" stroke="#00ff00" stroke-width="2.7"/>
<line x1="351.25" y1="477.40" x2="351.25" y2="489.40" stroke="#00ff00" stroke-width="2.7"/>
<line x1="367.00" y1="477.40" x2="367.00" y2="489.40" stroke="#0000ff" stroke-width="2.7"/>
<line x1="366.00" y1="477.40" x2="366.00" y2="489.40" stroke="#00ff00" stroke-width="2.7"/>
<g font-family="'Liberation Sans', sans-serif" fill="#000" stroke="#000" stroke-width="0.3">
<text x="43.20" y="515.40" text-anchor="middle" font-size="19.80" >500</text>
<text x="92.58" y="515.40" text-anchor="middle" font-size="19.80" >550</text>
<text x="141.95" y="515.40" text-anchor="middle" font-size="19.80" >600</text>
<text x="191.32" y="515.40" text-anchor="middle" font-size="19.80" >650</text>
<text x="240.70" y="515.40" text-anchor="middle" font-size="19.80" >700</text>
<text x="290.07" y="515.40" text-anchor="middle" font-size="19.80" >750</text>
<text x="339.45" y="515.40" text-anchor="middle" font-size="19.80" >800</text>
<text x="388.82" y="515.40" text-anchor="middle" font-size="19.80" >850</text>
<text x="114.30" y="37.50" text-anchor="middle" font-size="19.80" >572</text>
<text x="260.20" y="47.50" text-anchor="middle" font-size="19.80" >720</text>
<text x="363.20" y="36.70" text-anchor="middle" font-size="19.80" >(a)</text>
<text x="89.20" y="149.20" text-anchor="middle" font-size="19.80" >547</text>
<text x="260.00" y="199.25" text-anchor="middle" font-size="19.80" >720</text>
<text x="363.30" y="151.50" text-anchor="middle" font-size="19.80" >(b)</text>
<text x="55.60" y="275.50" text-anchor="middle" font-size="19.80" >506</text>
<text x="256.20" y="323.75" text-anchor="middle" font-size="19.80" >715</text>
<text x="363.70" y="273.75" text-anchor="middle" font-size="19.80" >(c)</text>
<text x="80.00" y="395.00" text-anchor="middle" font-size="19.80" >537</text>
<text x="260.00" y="436.25" text-anchor="middle" font-size="19.80" >720</text>
<text x="363.10" y="400.75" text-anchor="middle" font-size="19.80" >(d)</text>
<text x="132.6" y="543" font-size="19.80">Wavenumber (cm<tspan font-size="13.6" dy="-6.6" stroke="#000" stroke-width="0.5">−</tspan><tspan font-size="13.6">1</tspan><tspan dy="6.6">)</tspan></text>
<text transform="translate(18.8,381.30) rotate(-90)" font-size="19.80" textLength="63.83" lengthAdjust="spacing">Raman</text>
<text transform="translate(18.8,312.00) rotate(-90)" font-size="19.80" textLength="74.90" lengthAdjust="spacing">intensity,</text>
<text transform="translate(18.8,232.40) rotate(-90)" font-size="19.80" textLength="41.70" lengthAdjust="spacing">(arb.</text>
<text transform="translate(18.8,185.10) rotate(-90)" font-size="19.80" textLength="34.70" lengthAdjust="spacing">un.)</text>
</g>
</svg>
</body></html>
